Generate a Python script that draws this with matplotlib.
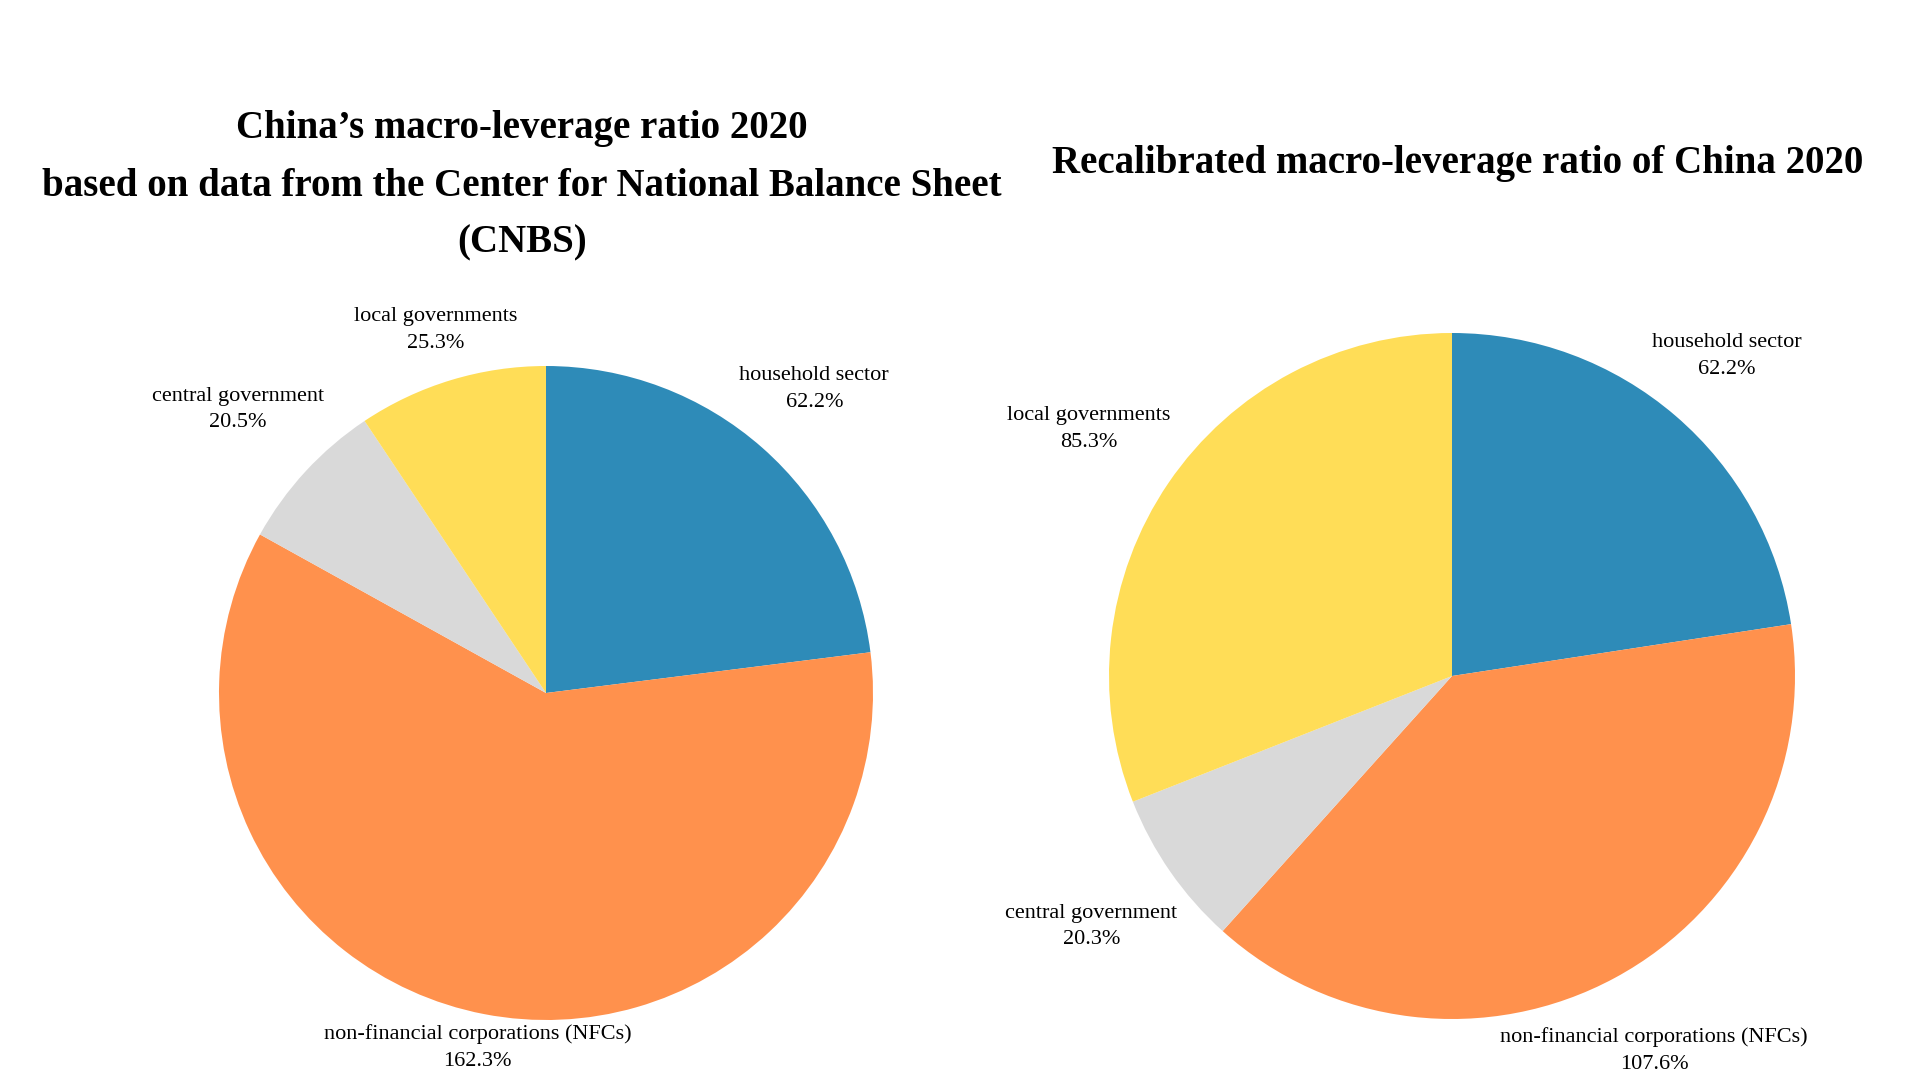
import matplotlib
matplotlib.use("Agg")
import matplotlib.pyplot as plt
import numpy as np

# Data
sectors = ["household sector", "non-financial corporations (NFCs)",
           "central government", "local governments"]
cnbs_values = [62.2, 162.3, 20.5, 25.3]
recal_values = [62.2, 107.6, 20.3, 85.3]
colors = ["#2E8BB8", "#FF914D", "#D9D9D9", "#FFDD57"]

title_left = ("China\u2019s macro-leverage ratio 2020\n"
              "based on data from the Center for National Balance Sheet\n"
              "(CNBS)")
title_right = "Recalibrated macro-leverage ratio of China 2020"

plt.rcParams['font.family'] = ['Liberation Serif', 'DejaVu Serif']

W, H = 1920, 1080
fig = plt.figure(figsize=(19.2, 10.8), dpi=100)


def pie_axes(cx, cy, r):
    # pixel centre / radius -> figure-fraction axes
    return fig.add_axes([(cx - r) / W, (H - cy - r) / H, 2 * r / W, 2 * r / H])


def draw_pie(ax, values, label_dist):
    wedges, _ = ax.pie(values, colors=colors, startangle=90,
                       counterclock=False, radius=1.0,
                       wedgeprops=dict(linewidth=0))
    ax.set_xlim(-1, 1)
    ax.set_ylim(-1, 1)
    ax.set_aspect('equal')
    ax.axis('off')
    for w, name, v, d in zip(wedges, sectors, values, label_dist):
        mid = np.deg2rad((w.theta1 + w.theta2) / 2)
        ax.text(d * np.cos(mid), d * np.sin(mid), f"{name}\n{v:.1f}%",
                ha='center', va='center', fontsize=16, linespacing=1.55,
                clip_on=False)


ax1 = pie_axes(546, 693, 327)
draw_pie(ax1, cnbs_values, [1.24, 1.105, 1.28, 1.16])

ax2 = pie_axes(1452, 676, 343)
draw_pie(ax2, recal_values, [1.23, 1.24, 1.28, 1.28])

fig.text(522 / W, 1 - 186 / H, title_left, ha='center', va='center',
         fontsize=28, fontweight='bold', linespacing=1.72)
fig.text(1458 / W, 1 - 163 / H, title_right, ha='center', va='center',
         fontsize=28, fontweight='bold')

fig.savefig("out.png", dpi=100)
